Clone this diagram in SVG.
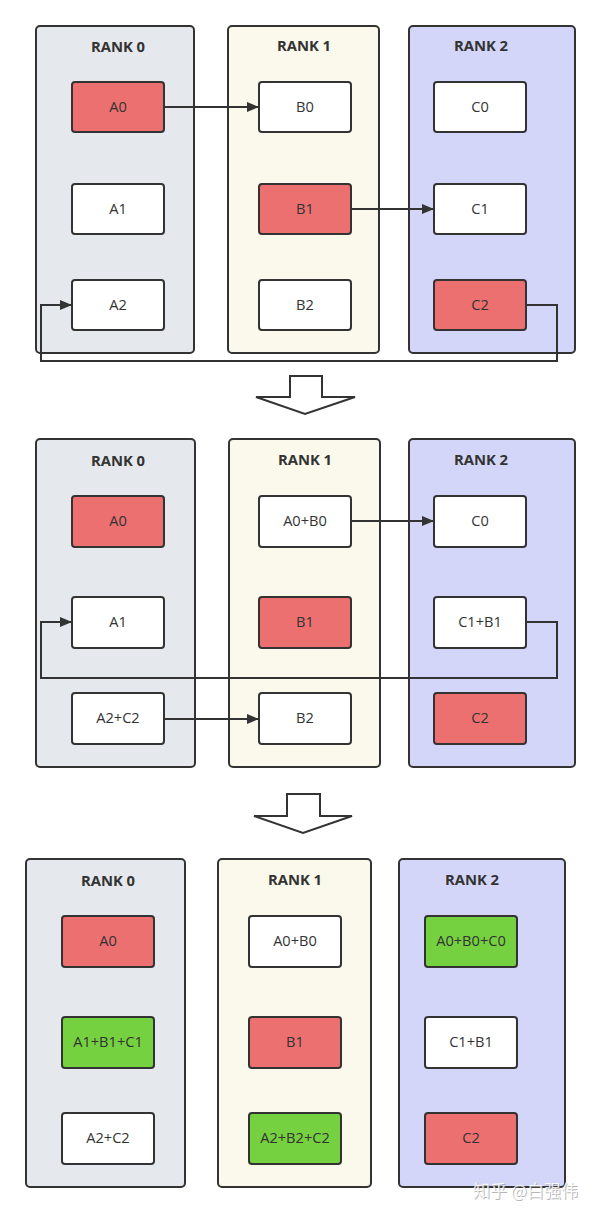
<svg xmlns="http://www.w3.org/2000/svg" width="600" height="1213" viewBox="0 0 600 1213">
<defs>
<marker id="ah" markerWidth="12" markerHeight="10" refX="11" refY="5" orient="auto" markerUnits="userSpaceOnUse">
<path d="M0,0 L12,5 L0,10 Z" fill="#333"/>
</marker>
<style>
.r0{fill:#e5e8ec;stroke:#333;stroke-width:2}
.r1{fill:#fbf8ec;stroke:#333;stroke-width:2}
.r2{fill:#d3d6f8;stroke:#333;stroke-width:2}
.n{fill:#fff;stroke:#333;stroke-width:2}
.red{fill:#ec7070;stroke:#333;stroke-width:2}
.grn{fill:#75d13f;stroke:#333;stroke-width:2}
.t{font-family:"Open Sans","Noto Sans",sans-serif;font-size:14.8px;font-weight:bold;fill:#333;text-anchor:middle}
.l{font-family:"Open Sans","Noto Sans",sans-serif;font-size:14.6px;fill:#333;text-anchor:middle}
.c{fill:none;stroke:#333;stroke-width:2}
.big{fill:#fff;stroke:#333;stroke-width:2}
</style>
</defs>
<rect width="600" height="1213" fill="#fff"/>

<!-- Section 1 -->
<g id="s1-rank0"><rect class="r0" x="36" y="26" width="158" height="327" rx="4"/><text class="t" x="118" y="52">RANK 0</text></g>
<g id="s1-rank1"><rect class="r1" x="228" y="26" width="151" height="327" rx="4"/><text class="t" x="304" y="51">RANK 1</text></g>
<g id="s1-rank2"><rect class="r2" x="409" y="26" width="166" height="327" rx="4"/><text class="t" x="481" y="51">RANK 2</text></g>
<g id="s1-A0"><rect class="red" x="72" y="82" width="92" height="50" rx="3"/><text class="l" x="118" y="112">A0</text></g>
<g id="s1-A1"><rect class="n" x="72" y="184" width="92" height="50" rx="3"/><text class="l" x="118" y="214">A1</text></g>
<g id="s1-A2"><rect class="n" x="72" y="280" width="92" height="50" rx="3"/><text class="l" x="118" y="310">A2</text></g>
<g id="s1-B0"><rect class="n" x="259" y="82" width="92" height="50" rx="3"/><text class="l" x="305" y="112">B0</text></g>
<g id="s1-B1"><rect class="red" x="259" y="184" width="92" height="50" rx="3"/><text class="l" x="305" y="214">B1</text></g>
<g id="s1-B2"><rect class="n" x="259" y="280" width="92" height="50" rx="3"/><text class="l" x="305" y="310">B2</text></g>
<g id="s1-C0"><rect class="n" x="434" y="82" width="92" height="50" rx="3"/><text class="l" x="480" y="112">C0</text></g>
<g id="s1-C1"><rect class="n" x="434" y="184" width="92" height="50" rx="3"/><text class="l" x="480" y="214">C1</text></g>
<g id="s1-C2"><rect class="red" x="434" y="280" width="92" height="50" rx="3"/><text class="l" x="480" y="310">C2</text></g>

<!-- Section 2 -->
<g id="s2-rank0"><rect class="r0" x="36" y="439" width="159" height="328" rx="4"/><text class="t" x="118" y="466">RANK 0</text></g>
<g id="s2-rank1"><rect class="r1" x="229" y="439" width="151" height="328" rx="4"/><text class="t" x="305" y="465">RANK 1</text></g>
<g id="s2-rank2"><rect class="r2" x="409" y="439" width="166" height="328" rx="4"/><text class="t" x="481" y="465">RANK 2</text></g>
<g id="s2-A0"><rect class="red" x="72" y="496" width="92" height="51" rx="3"/><text class="l" x="118" y="526">A0</text></g>
<g id="s2-A1"><rect class="n" x="72" y="597" width="92" height="51" rx="3"/><text class="l" x="118" y="627">A1</text></g>
<g id="s2-A2C2"><rect class="n" x="72" y="693" width="92" height="51" rx="3"/><text class="l" x="118" y="723">A2+C2</text></g>
<g id="s2-A0B0"><rect class="n" x="259" y="496" width="92" height="51" rx="3"/><text class="l" x="305" y="526">A0+B0</text></g>
<g id="s2-B1"><rect class="red" x="259" y="597" width="92" height="51" rx="3"/><text class="l" x="305" y="627">B1</text></g>
<g id="s2-B2"><rect class="n" x="259" y="693" width="92" height="51" rx="3"/><text class="l" x="305" y="723">B2</text></g>
<g id="s2-C0"><rect class="n" x="434" y="496" width="92" height="51" rx="3"/><text class="l" x="480" y="526">C0</text></g>
<g id="s2-C1B1"><rect class="n" x="434" y="597" width="92" height="51" rx="3"/><text class="l" x="480" y="627">C1+B1</text></g>
<g id="s2-C2"><rect class="red" x="434" y="693" width="92" height="51" rx="3"/><text class="l" x="480" y="723">C2</text></g>

<!-- Section 3 -->
<g id="s3-rank0"><rect class="r0" x="26" y="859" width="159" height="328" rx="4"/><text class="t" x="108" y="886">RANK 0</text></g>
<g id="s3-rank1"><rect class="r1" x="218" y="859" width="153" height="328" rx="4"/><text class="t" x="295" y="885">RANK 1</text></g>
<g id="s3-rank2"><rect class="r2" x="399" y="859" width="166" height="328" rx="4"/><text class="t" x="472" y="885">RANK 2</text></g>
<g id="s3-A0"><rect class="red" x="62" y="916" width="92" height="51" rx="3"/><text class="l" x="108" y="946">A0</text></g>
<g id="s3-A1B1C1"><rect class="grn" x="62" y="1017" width="92" height="51" rx="3"/><text class="l" x="108" y="1047">A1+B1+C1</text></g>
<g id="s3-A2C2"><rect class="n" x="62" y="1113" width="92" height="51" rx="3"/><text class="l" x="108" y="1143">A2+C2</text></g>
<g id="s3-A0B0"><rect class="n" x="249" y="916" width="92" height="51" rx="3"/><text class="l" x="295" y="946">A0+B0</text></g>
<g id="s3-B1"><rect class="red" x="249" y="1017" width="92" height="51" rx="3"/><text class="l" x="295" y="1047">B1</text></g>
<g id="s3-A2B2C2"><rect class="grn" x="249" y="1113" width="92" height="51" rx="3"/><text class="l" x="295" y="1143">A2+B2+C2</text></g>
<g id="s3-A0B0C0"><rect class="grn" x="425" y="916" width="92" height="51" rx="3"/><text class="l" x="471" y="946">A0+B0+C0</text></g>
<g id="s3-C1B1"><rect class="n" x="425" y="1017" width="92" height="51" rx="3"/><text class="l" x="471" y="1047">C1+B1</text></g>
<g id="s3-C2"><rect class="red" x="425" y="1113" width="92" height="51" rx="3"/><text class="l" x="471" y="1143">C2</text></g>

<!-- Connectors -->
<g id="connectors">
<path class="c" d="M164,107 H258" marker-end="url(#ah)"/>
<path class="c" d="M351,209 H433" marker-end="url(#ah)"/>
<path class="c" d="M526,305 H557 V361 H41 V305 H71" marker-end="url(#ah)"/>
<path class="c" d="M351,521 H433" marker-end="url(#ah)"/>
<path class="c" d="M526,622 H557 V678 H41 V622 H71" marker-end="url(#ah)"/>
<path class="c" d="M164,719 H258" marker-end="url(#ah)"/>
</g>

<!-- Big down arrows -->
<g id="down1"><path class="big" d="M290,376 H322 V397 H355 L305,414 L256,397 H290 Z"/></g>
<g id="down2"><path class="big" d="M287,794 H320 V816 H352 L303,833 L254,816 H287 Z"/></g>

<!-- Watermark -->
<g id="watermark">
<text x="473" y="1197" font-family="'Noto Sans CJK SC','Noto Sans',sans-serif" font-size="17" fill="#888" opacity="0.6" transform="translate(1,1)">知乎 @白强伟</text>
<text x="473" y="1197" font-family="'Noto Sans CJK SC','Noto Sans',sans-serif" font-size="17" fill="#fff" opacity="0.85">知乎 @白强伟</text>
</g>
</svg>
